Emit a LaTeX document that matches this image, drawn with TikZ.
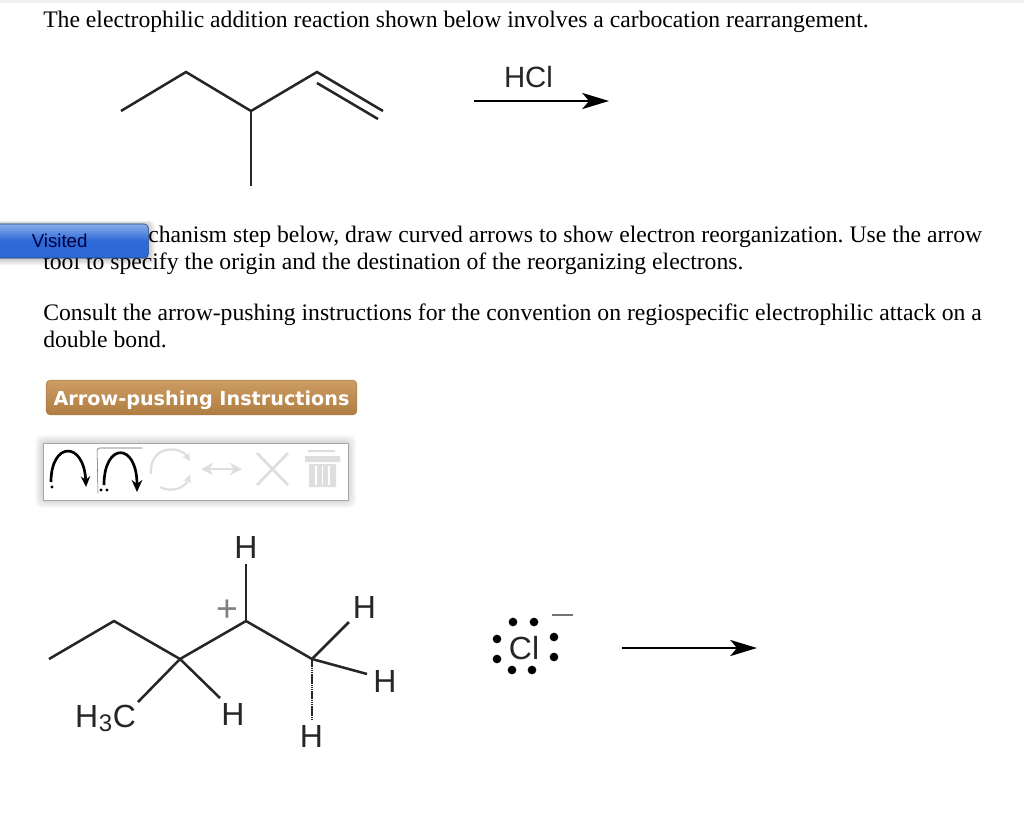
\documentclass[tikz,border=0pt]{standalone}
\usepackage{fontspec}
\setmainfont{Liberation Serif}
\setsansfont{Liberation Sans}
\newfontfamily\btnfont{DejaVu Sans}
\usetikzlibrary{arrows.meta}
\definecolor{btnbrown}{RGB}{195,139,72}
\definecolor{btnblue}{RGB}{45,105,215}
\begin{document}
\frenchspacing
\begin{tikzpicture}[x=0.75pt,y=-0.75pt,
bond/.style={line width=1.9pt,black!85},
atom/.style={inner sep=0pt,font=\sffamily\fontsize{24}{24}\selectfont,text=black!85},
para/.style={inner sep=0pt,anchor=base west,font=\fontsize{17.75}{20}\selectfont},
rxn/.style={line width=2pt,-{Stealth[length=20pt,width=12pt,inset=5pt]}},
pair/.style={circle,fill=black,inner sep=0pt,minimum size=6.5pt},
tool/.style={line width=2pt,black},
ghost/.style={line width=1.6pt,black!13},
softshade/.style={black,opacity=0.02,rounded corners=4pt}]
\useasboundingbox (0,0) rectangle (1024,833);
\fill [black!6] (0,0) rectangle (1024,3);

% text
\node (l1) at (43,27) [para] {The electrophilic addition reaction shown below involves a carbocation rearrangement.};
\node (l2) at (148,242) [para] {chanism step below, draw curved arrows to show electron reorganization. Use the arrow};
\node (l3) at (43,269) [para] {tool to specify the origin and the destination of the reorganizing electrons.};
\node (l4) at (43,320) [para] {Consult the arrow-pushing instructions for the convention on regiospecific electrophilic attack on a};
\node (l5) at (43,347) [para] {double bond.};

% visited tab
\foreach \d in {1,...,7}
  \fill [softshade,opacity=0.035] (-10,224-\d/2) rectangle (148+\d,258+\d);
\node (visited) at (69,241) [rounded corners=3pt,minimum width=119pt,minimum height=25.5pt,inner sep=0pt,
  top color=btnblue!55,bottom color=btnblue,middle color=btnblue,draw=btnblue!60!black,
  font=\sffamily\fontsize{14}{14}\selectfont,text=black!75!blue] {\hspace{-14pt}Visited};

% first molecule
\coordinate (a1) at (121,111);
\coordinate (a2) at (186,72);
\coordinate (a3) at (251,111);
\coordinate (a4) at (317,72);
\coordinate (a5) at (383,111);
\coordinate (a6) at (251,186);
\coordinate (d1) at (317,83);
\coordinate (d2) at (378,119);
\draw [bond] (a1) -- (a2) -- (a3) -- (a4) -- (a5);
\draw [bond] (a3) -- (a6);
\draw [bond] (d1) -- (d2);

\node (hcl) at (528.5,77) [atom,font=\sffamily\fontsize{22}{22}\selectfont] {HCl};
\coordinate (r1a) at (474,101);
\coordinate (r1b) at (609,101);
\draw [rxn] (r1a) -- (r1b);

% button
\node (btn) at (201.5,397.5) [rounded corners=3pt,minimum width=233pt,minimum height=26pt,inner sep=0pt,
  top color=btnbrown!85!white,bottom color=btnbrown!90!black,draw=btnbrown!85!black,
  text height=12.9pt,text depth=0.5pt,
  font=\btnfont\bfseries\fontsize{14.4}{15}\selectfont,text=white] {Arrow-pushing Instructions};

% tool bar
\foreach \d in {1,...,8}
  \fill [softshade] (43-\d,443-\d) rectangle (348+\d,500+\d);
\node (bar) at (196,471.5) [draw=black!35,fill=white,minimum width=229pt,minimum height=42.5pt,inner sep=0pt] {};
\draw [tool,-{Stealth[length=8pt,width=7pt]}] (51,482) .. controls (51,441) and (84,441) .. (86,487);
\fill (52,487) circle (1.3pt);
\draw [black!60,rounded corners=2pt] (142,448) -- (97,448) -- (98,493);
\draw [tool,-{Stealth[length=9pt,width=8pt]}] (104,485) .. controls (104,442) and (137,442) .. (137,492);
\fill (101,490) circle (1.2pt) (107,490) circle (1.2pt);
\draw [ghost,-{Stealth[length=6pt,width=6pt]}] (151,474) .. controls (149,445) and (180,445) .. (190,461);
\draw [ghost,-{Stealth[length=6pt,width=6pt]}] (160,487) .. controls (172,493) and (185,488) .. (190,475);
\draw [ghost,line width=2pt,{Stealth[length=9pt,width=9pt]}-{Stealth[length=9pt,width=9pt]}] (201,469) -- (242,469);
\draw [ghost,line width=2pt] (257,453) -- (288,485) (288,453) -- (257,485);
\fill [black!13] (308,450) rectangle (335,452) (305,456) rectangle (340,462) (309,464) rectangle (336,487);
\draw [white,line width=1pt] (316,466) -- (316,485) (322.5,466) -- (322.5,485) (329,466) -- (329,485);

% second molecule
\coordinate (b1) at (49,659);
\coordinate (b2) at (114,621);
\coordinate (b3) at (180,659);
\coordinate (b4) at (246,621);
\coordinate (b5) at (312,659);
\node (h1) at (246,547.5) [atom] {H};
\node (h2) at (364.5,607.5) [atom] {H};
\node (h3) at (385,681) [atom] {H};
\node (h4) at (311.5,736.5) [atom] {H};
\node (h5) at (233,714.5) [atom] {H};
\node (me) at (105.5,727) [atom,anchor=base] {H\kern0.5pt\raisebox{-3.5pt}{\fontsize{18}{18}\selectfont 3}\kern0.5pt C};
\node (plus) at (227,611) [atom,text=black!50,font=\sffamily\fontsize{28}{28}\selectfont] {+};
\coordinate (e1) at (246,564);
\coordinate (e2) at (349,622);
\coordinate (e3) at (367,674);
\coordinate (e4) at (312,720);
\coordinate (e5) at (220,698);
\coordinate (e6) at (138,702);
\draw [bond] (b1) -- (b2) -- (b3) -- (b4) -- (b5);
\draw [bond] (b4) -- (e1);
\draw [bond] (b5) -- (e2);
\draw [bond] (b5) -- (e3);
\draw [bond,dash pattern=on 1.2pt off 0.4pt] (b5) -- (e4);
\draw [bond] (b3) -- (e5);
\draw [bond] (b3) -- (e6);

% chloride
\node (cl) at (524,648) [atom] {Cl};
\node (minus) at (562.5,615) [minimum width=16pt,minimum height=1.3pt,inner sep=0pt,fill=black!55] {};
\foreach \px/\py in {513/622,534/622,497/639,497/659,554/637,554/657,512/670,532/670}
  \node at (\px,\py) [pair] {};
\coordinate (r2a) at (622,648);
\coordinate (r2b) at (757,648);
\draw [rxn] (r2a) -- (r2b);
\end{tikzpicture}
\end{document}
